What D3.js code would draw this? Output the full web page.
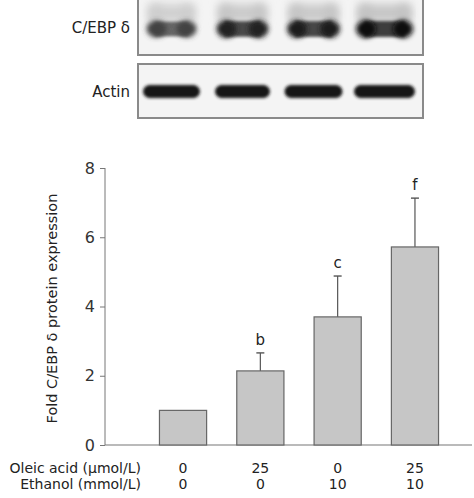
<!DOCTYPE html>
<html lang="en">
<head>
    <meta charset="UTF-8">
    <title>C/EBP delta protein expression</title>
    <script src="https://d3js.org/d3.v7.min.js"></script>
    <style>
        body { margin: 0; background: #fff; }
        svg { display: block; font-family: "DejaVu Sans", sans-serif; }
        .row-label { font-size: 14px; fill: #222; }
        .blot-label { font-size: 15px; fill: #222; }
    </style>
</head>
<body>
    <svg id="chart" width="474" height="498"></svg>

    <script>
        // groups and measured values
        const groups = ["g1", "g2", "g3", "g4"];
        const foldValues = [1.0, 2.14, 3.70, 5.72];
        const errorValues = [0, 0.52, 1.18, 1.41];
        const sigLetters = ["", "b", "c", "f"];
        const oleicDoses = ["0", "25", "0", "25"];
        const ethanolDoses = ["0", "0", "10", "10"];
        const yTicks = [0, 2, 4, 6, 8];

        // western blot band densities (0..1) and widths in px
        const cebpDensity = [0.78, 0.93, 0.95, 1.0];
        const cebpWidth = [50, 52, 53, 57];
        const actinDensity = [0.97, 0.97, 0.97, 0.97];
        const actinWidth = [57, 55, 58, 61];

        const svg = d3.select("#chart");

        /* ---------- western blot ---------- */
        const defs = svg.append("defs");
        const addBlur = (id, sd) => defs.append("filter").attr("id", id)
            .attr("x", "-50%").attr("y", "-80%")
            .attr("width", "200%").attr("height", "260%")
            .append("feGaussianBlur").attr("stdDeviation", sd);
        addBlur("blur", 1.6);
        addBlur("soft", 2.6);
        addBlur("smear", 5);

        const lane = d3.scaleBand().domain(groups).range([136, 420]);
        const blotLeft = 138, blotRight = 423;
        const shade = d3.scaleLinear().domain([0, 1]).range(["#f4f4f4", "#101010"]);

        // panel boxes
        const panels = [
            { name: "C/EBP δ", y0: -1, y1: 55, bandY: 28 },
            { name: "Actin", y0: 64, y1: 118, bandY: 92 }
        ];
        panels.forEach(p => {
            svg.append("rect")
                .attr("x", blotLeft).attr("y", p.y0)
                .attr("width", blotRight - blotLeft).attr("height", p.y1 - p.y0)
                .attr("fill", "#f4f4f4")
                .attr("stroke", "#8a8a8a").attr("stroke-width", 2);
            svg.append("text")
                .attr("class", "blot-label")
                .attr("x", 130).attr("y", p.bandY + 5)
                .attr("text-anchor", "end")
                .text(p.name);
        });

        // C/EBP bands: faint smear above the ends, dark ends, thinner middle
        groups.forEach((g, i) => {
            const cx = lane(g) + lane.bandwidth() / 2;
            const w = cebpWidth[i];
            const d = cebpDensity[i];
            const gBand = svg.append("g");
            gBand.append("rect")
                .attr("x", cx - w / 2 + 2).attr("y", 4)
                .attr("width", w - 4).attr("height", 18)
                .attr("fill", shade(d * 0.2))
                .attr("filter", "url(#smear)");
            [-1, 1].forEach(side => {
                gBand.append("ellipse")
                    .attr("cx", cx + side * (w / 2 - 9)).attr("cy", 14)
                    .attr("rx", 6).attr("ry", 10)
                    .attr("fill", shade(d * 0.22))
                    .attr("filter", "url(#smear)");
            });
            gBand.append("rect")
                .attr("x", cx - w / 2 + 8).attr("y", 29 - 5 - d * 3)
                .attr("width", w - 16).attr("height", 10 + d * 6)
                .attr("fill", shade(d * 0.8))
                .attr("filter", "url(#blur)");
            [-1, 1].forEach(side => {
                gBand.append("ellipse")
                    .attr("cx", cx + side * (w / 2 - 10)).attr("cy", 29)
                    .attr("rx", 10).attr("ry", 6 + d * 3)
                    .attr("fill", shade(d))
                    .attr("filter", "url(#soft)");
            });
        });

        // actin bands
        groups.forEach((g, i) => {
            const cx = lane(g) + lane.bandwidth() / 2;
            const w = actinWidth[i];
            svg.append("rect")
                .attr("x", cx - w / 2).attr("y", 85)
                .attr("width", w).attr("height", 13)
                .attr("rx", 6.5)
                .attr("fill", shade(actinDensity[i]))
                .attr("filter", "url(#blur)");
        });

        /* ---------- bar chart ---------- */
        const margin = { left: 105, right: 472, top: 168, bottom: 445 };

        const x = d3.scaleBand()
            .domain(groups)
            .range([144, 454])
            .paddingInner(0.39)
            .paddingOuter(0.2);

        const y = d3.scaleLinear()
            .domain([0, 8])
            .range([margin.bottom, margin.top]);

        // y axis
        const yAxis = svg.append("g")
            .attr("transform", `translate(${margin.left},0)`)
            .call(d3.axisLeft(y).tickValues(yTicks).tickSize(5).tickPadding(5));
        yAxis.select(".domain").attr("d", `M0,${y(8)}V${y(0)}`).attr("stroke", "#777");
        yAxis.selectAll(".tick line").attr("stroke", "#777");
        yAxis.selectAll(".tick text")
            .attr("font-size", "16px")
            .attr("font-family", "DejaVu Sans, sans-serif")
            .attr("fill", "#333");

        // x axis baseline
        svg.append("line")
            .attr("x1", margin.left).attr("x2", margin.right)
            .attr("y1", y(0)).attr("y2", y(0))
            .attr("stroke", "#777").attr("stroke-width", 1.2);

        // y label
        svg.append("text")
            .attr("transform", `translate(57,${(y(0) + y(8)) / 2 + 2}) rotate(-90)`)
            .attr("text-anchor", "middle")
            .attr("font-size", "14.5px")
            .attr("fill", "#222")
            .text("Fold C/EBP δ protein expression");

        // error bars (drawn first so bars cover the lower half)
        groups.forEach((g, i) => {
            if (!errorValues[i]) return;
            const cx = x(g) + x.bandwidth() / 2;
            const top = y(foldValues[i] + errorValues[i]);
            svg.append("line")
                .attr("x1", cx).attr("x2", cx)
                .attr("y1", y(foldValues[i])).attr("y2", top)
                .attr("stroke", "#555").attr("stroke-width", 1.2);
            svg.append("line")
                .attr("x1", cx - 4).attr("x2", cx + 4)
                .attr("y1", top).attr("y2", top)
                .attr("stroke", "#555").attr("stroke-width", 1.4);
            svg.append("text")
                .attr("x", cx).attr("y", top - 8)
                .attr("text-anchor", "middle")
                .attr("font-size", "15px")
                .attr("fill", "#222")
                .text(sigLetters[i]);
        });

        // bars
        svg.selectAll(".bar")
            .data(groups)
            .enter().append("rect")
            .attr("class", "bar")
            .attr("x", g => x(g))
            .attr("y", (g, i) => y(foldValues[i]))
            .attr("width", x.bandwidth())
            .attr("height", (g, i) => y(0) - y(foldValues[i]))
            .attr("fill", "#c6c6c6")
            .attr("stroke", "#666")
            .attr("stroke-width", 1.2);

        // treatment rows under the axis
        const rows = [
            { label: "Oleic acid (μmol/L)", values: oleicDoses, y: 473 },
            { label: "Ethanol (mmol/L)", values: ethanolDoses, y: 489 }
        ];
        rows.forEach(r => {
            svg.append("text")
                .attr("class", "row-label")
                .attr("x", 141).attr("y", r.y)
                .attr("text-anchor", "end")
                .text(r.label);
            groups.forEach((g, i) => {
                svg.append("text")
                    .attr("class", "row-label")
                    .attr("x", x(g) + x.bandwidth() / 2)
                    .attr("y", r.y)
                    .attr("text-anchor", "middle")
                    .text(r.values[i]);
            });
        });
    </script>
</body>
</html>
